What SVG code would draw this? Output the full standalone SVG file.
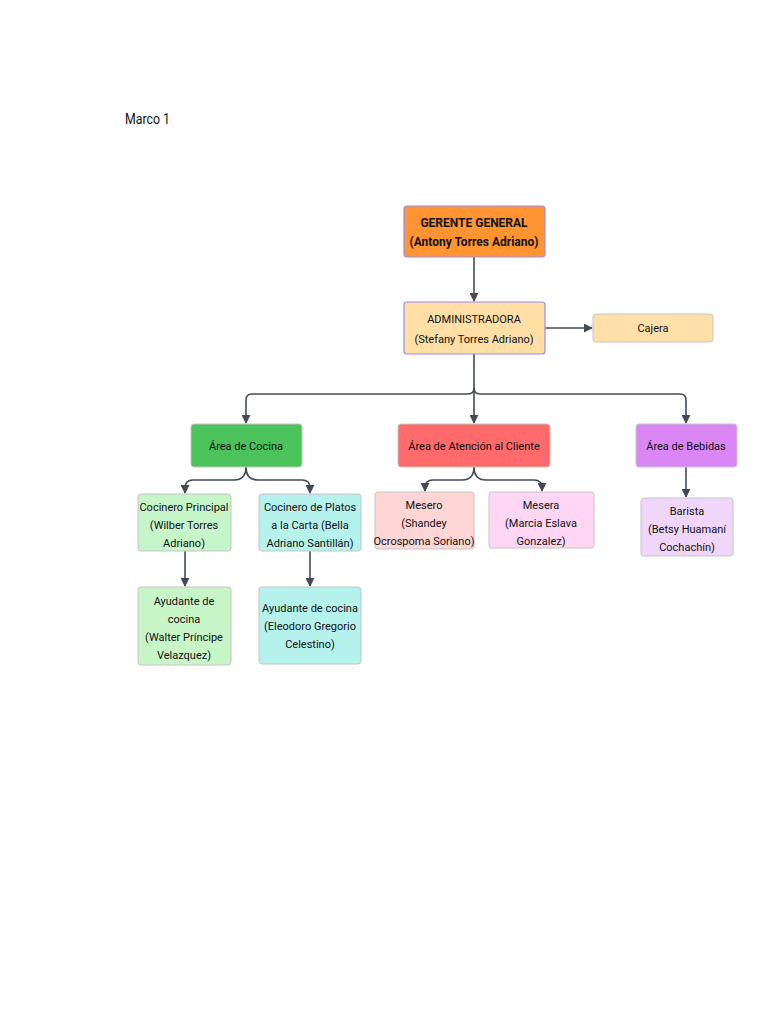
<svg xmlns="http://www.w3.org/2000/svg" width="768" height="1024" viewBox="0 0 768 1024">
<style>
.t{font-family:Roboto,"Liberation Sans",sans-serif;font-size:11px;fill:#111;text-anchor:middle}
.b{font-weight:bold;font-size:12px}
.box{stroke:#c4c4c4;stroke-width:1}
.pb{stroke:#9a8cf0;stroke-width:1.2}
.c{fill:none;stroke:#434a55;stroke-width:1.6}
</style>
<defs>
<marker id="ah" viewBox="0 0 10 10" refX="9" refY="5" markerWidth="9" markerHeight="9" orient="auto" markerUnits="userSpaceOnUse">
<path d="M0,0 L10,5 L0,10 z" fill="#434a55"/>
</marker>
</defs>
<rect width="768" height="1024" fill="#fff"/>
<text x="125" y="124" font-family="Roboto,'Liberation Sans',sans-serif" font-size="14" fill="#111" textLength="45" lengthAdjust="spacingAndGlyphs">Marco 1</text>
<g id="connectors">
<path class="c" d="M474,257 V301" marker-end="url(#ah)"/>
<path class="c" d="M545,328 H592" marker-end="url(#ah)"/>
<path class="c" d="M474,354 V388 Q474,394 468,394 H252 Q246,394 246,400 V423" marker-end="url(#ah)"/>
<path class="c" d="M474,388 V423" marker-end="url(#ah)"/>
<path class="c" d="M474,388 Q474,394 480,394 H680 Q686,394 686,400 V423" marker-end="url(#ah)"/>
<path class="c" d="M246,467 Q246,480 234,480 H193 Q185,480 185,488 V493" marker-end="url(#ah)"/>
<path class="c" d="M246,467 Q246,480 258,480 H302 Q310,480 310,488 V493" marker-end="url(#ah)"/>
<path class="c" d="M474,467 Q474,480 462,480 H433 Q425,480 425,488 V491" marker-end="url(#ah)"/>
<path class="c" d="M474,467 Q474,480 486,480 H534 Q542,480 542,488 V491" marker-end="url(#ah)"/>
<path class="c" d="M686,467 V497" marker-end="url(#ah)"/>
<path class="c" d="M185,551 V586" marker-end="url(#ah)"/>
<path class="c" d="M310,551 V586" marker-end="url(#ah)"/>
</g>
<g id="gerente">
<rect class="pb" x="404" y="206" width="141" height="51" rx="3" fill="#ff9433"/>
<text class="t b" x="474" y="227">GERENTE GENERAL</text>
<text class="t b" x="474" y="246">(Antony Torres Adriano)</text>
</g>
<g id="administradora">
<rect class="pb" x="404" y="302" width="141" height="52" rx="3" fill="#ffdfa6"/>
<text class="t" x="474" y="323" font-size="12">ADMINISTRADORA</text>
<text class="t" x="474" y="343" font-size="12">(Stefany Torres Adriano)</text>
</g>
<g id="cajera">
<rect class="box" x="593" y="314" width="120" height="28" rx="3" fill="#ffe0a8"/>
<text class="t" x="653" y="332" font-size="10">Cajera</text>
</g>
<g id="cocina">
<rect class="box" x="191" y="424" width="111" height="43" rx="3" fill="#4cc35a"/>
<text class="t" x="246" y="450">Área de Cocina</text>
</g>
<g id="atencion">
<rect class="box" x="398" y="424" width="152" height="43" rx="3" fill="#ff6b6b"/>
<text class="t" x="474" y="450">Área de Atención al Cliente</text>
</g>
<g id="bebidas">
<rect class="box" x="636" y="424" width="101" height="43" rx="3" fill="#da87f5"/>
<text class="t" x="686" y="450">Área de Bebidas</text>
</g>
<g id="cocinero-principal">
<rect class="box" x="138" y="494" width="93" height="57" rx="3" fill="#c5f5c8"/>
<text class="t" x="184" y="511">Cocinero Principal</text>
<text class="t" x="184" y="529">(Wilber Torres</text>
<text class="t" x="184" y="547">Adriano)</text>
</g>
<g id="cocinero-platos">
<rect class="box" x="259" y="494" width="102" height="57" rx="3" fill="#b5f2ec"/>
<text class="t" x="310" y="511">Cocinero de Platos</text>
<text class="t" x="310" y="529">a la Carta (Bella</text>
<text class="t" x="310" y="547">Adriano Santillán)</text>
</g>
<g id="mesero">
<rect class="box" x="375" y="492" width="99" height="57" rx="3" fill="#ffd6d6"/>
<text class="t" x="424" y="509">Mesero</text>
<text class="t" x="424" y="527">(Shandey</text>
<text class="t" x="424" y="545">Ocrospoma Soriano)</text>
</g>
<g id="mesera">
<rect class="box" x="489" y="492" width="105" height="56" rx="3" fill="#ffd6f3"/>
<text class="t" x="541" y="509">Mesera</text>
<text class="t" x="541" y="527">(Marcia Eslava</text>
<text class="t" x="541" y="545">Gonzalez)</text>
</g>
<g id="barista">
<rect class="box" x="641" y="498" width="92" height="58" rx="3" fill="#f0d6fa"/>
<text class="t" x="687" y="515">Barista</text>
<text class="t" x="687" y="533">(Betsy Huamaní</text>
<text class="t" x="687" y="551">Cochachín)</text>
</g>
<g id="ayudante-1">
<rect class="box" x="138" y="587" width="93" height="78" rx="3" fill="#c8f5c8"/>
<text class="t" x="184" y="605">Ayudante de</text>
<text class="t" x="184" y="623">cocina</text>
<text class="t" x="184" y="641">(Walter Príncipe</text>
<text class="t" x="184" y="659">Velazquez)</text>
</g>
<g id="ayudante-2">
<rect class="box" x="259" y="587" width="102" height="77" rx="3" fill="#b5f2ec"/>
<text class="t" x="310" y="612">Ayudante de cocina</text>
<text class="t" x="310" y="630">(Eleodoro Gregorio</text>
<text class="t" x="310" y="648">Celestino)</text>
</g>
</svg>
